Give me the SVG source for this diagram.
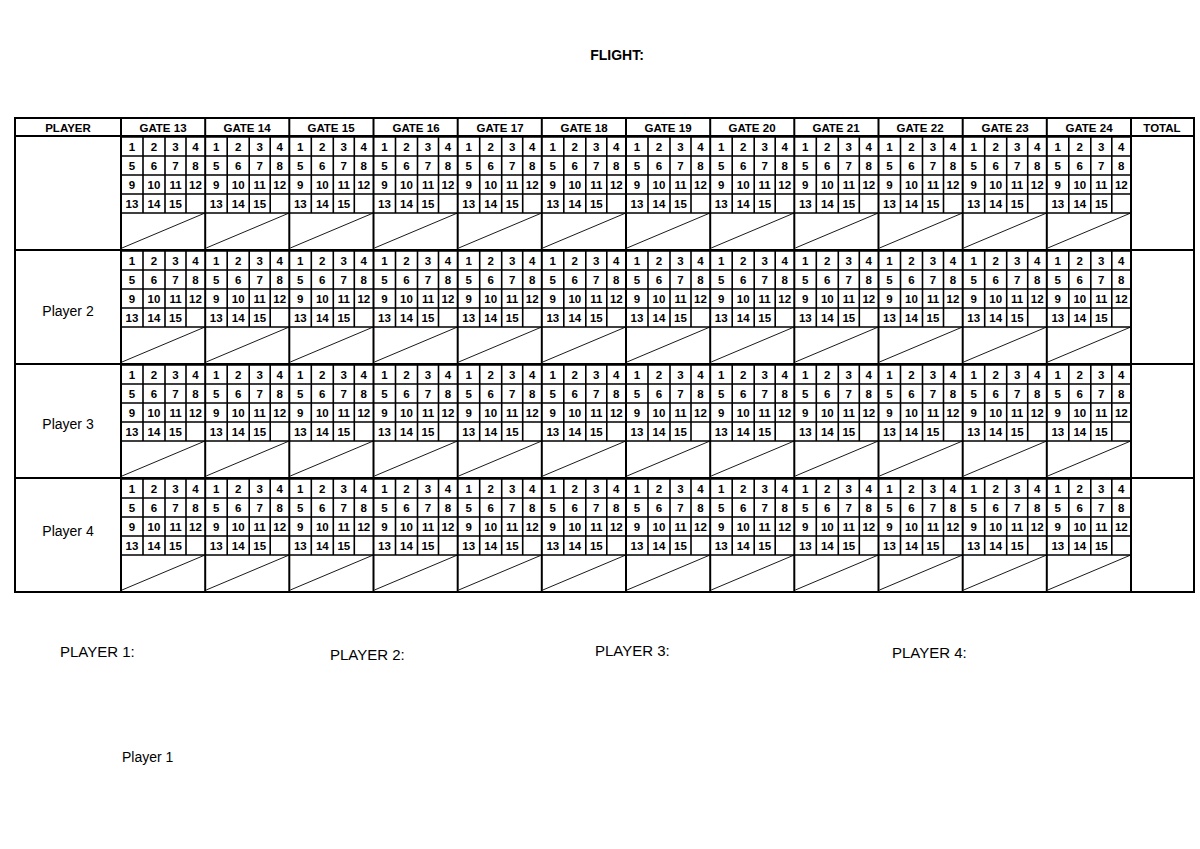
<svg xmlns="http://www.w3.org/2000/svg" xmlns:xlink="http://www.w3.org/1999/xlink" width="1200" height="849" viewBox="0 0 1200 849">
<style>
.t{font-family:"Liberation Sans",Arial,sans-serif;}
.h{font-family:"Liberation Sans",Arial,sans-serif;font-weight:bold;font-size:11.5px;text-anchor:middle;}
.n{font-family:"Liberation Sans",Arial,sans-serif;font-weight:bold;font-size:11.5px;text-anchor:middle;}
.thin{stroke:#000;stroke-width:1.6;fill:none;}
.thick{stroke:#000;stroke-width:2;fill:none;}
.d{stroke:#000;stroke-width:0.9;}
</style>
<defs>
<g id="gb">
<path class="thin" d="M0 1H84M0 20H84M0 39H84M0 58H84M0 77H84M22 1V77M44 1V77M65 1V77"/>
<line class="d" x1="1" y1="112" x2="84" y2="77"/>
<g class="n">
<text x="11" y="15">1</text><text x="33" y="15">2</text><text x="54.5" y="15">3</text><text x="74.5" y="15">4</text>
<text x="11" y="34">5</text><text x="33" y="34">6</text><text x="54.5" y="34">7</text><text x="74.5" y="34">8</text>
<text x="11" y="53">9</text><text x="33" y="53">10</text><text x="54.5" y="53">11</text><text x="74.5" y="53">12</text>
<text x="11" y="72">13</text><text x="33" y="72">14</text><text x="54.5" y="72">15</text>
</g>
</g>
<g id="row">
<use xlink:href="#gb" x="121"/><use xlink:href="#gb" x="205.2"/><use xlink:href="#gb" x="289.3"/><use xlink:href="#gb" x="373.5"/>
<use xlink:href="#gb" x="457.7"/><use xlink:href="#gb" x="541.8"/><use xlink:href="#gb" x="626"/><use xlink:href="#gb" x="710.2"/>
<use xlink:href="#gb" x="794.3"/><use xlink:href="#gb" x="878.5"/><use xlink:href="#gb" x="962.7"/><use xlink:href="#gb" x="1046.8"/>
</g>
</defs>
<rect width="1200" height="849" fill="#fff"/>
<text class="t" x="617" y="60" font-size="14" font-weight="bold" text-anchor="middle">FLIGHT:</text>
<g id="header" class="h">
<text x="68" y="132">PLAYER</text>
<text x="163" y="132">GATE 13</text><text x="247" y="132">GATE 14</text><text x="331" y="132">GATE 15</text><text x="416" y="132">GATE 16</text>
<text x="500" y="132">GATE 17</text><text x="584" y="132">GATE 18</text><text x="668" y="132">GATE 19</text><text x="752" y="132">GATE 20</text>
<text x="836" y="132">GATE 21</text><text x="920" y="132">GATE 22</text><text x="1005" y="132">GATE 23</text><text x="1089" y="132">GATE 24</text>
<text x="1162" y="132">TOTAL</text>
</g>
<g id="blocks">
<use xlink:href="#row" y="136"/>
<use xlink:href="#row" y="250"/>
<use xlink:href="#row" y="364"/>
<use xlink:href="#row" y="478"/>
</g>
<g id="grid" class="thick">
<rect x="15" y="118" width="1179" height="474"/>
<path d="M15 136H1194M15 250H1194M15 364H1194M15 478H1194"/>
<path d="M121 118V592M205.2 118V592M289.3 118V592M373.5 118V592M457.7 118V592M541.8 118V592M626 118V592M710.2 118V592M794.3 118V592M878.5 118V592M962.7 118V592M1046.8 118V592M1131 118V592"/>
</g>
<g class="t" font-size="14" text-anchor="middle">
<text x="68" y="316">Player 2</text>
<text x="68" y="429">Player 3</text>
<text x="68" y="536">Player 4</text>
</g>
<g class="t" font-size="15">
<text x="60" y="657">PLAYER 1:</text>
<text x="330" y="660">PLAYER 2:</text>
<text x="595" y="656">PLAYER 3:</text>
<text x="892" y="658">PLAYER 4:</text>
</g>
<text class="t" x="122" y="762" font-size="14">Player 1</text>
</svg>
